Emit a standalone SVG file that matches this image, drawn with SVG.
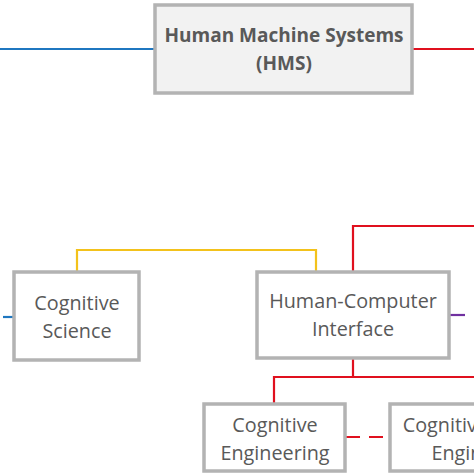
<svg xmlns="http://www.w3.org/2000/svg" width="474" height="474" viewBox="0 0 474 474">
<style>
.box{fill:#ffffff;stroke:#b3b3b3;stroke-width:3.5}
.top{fill:#f2f2f2;stroke:#b3b3b3;stroke-width:3.5}
.t{font-family:"Open Sans","Liberation Sans",sans-serif;font-size:19.8px;fill:#595959;text-anchor:middle}
.tb{font-family:"Open Sans","Liberation Sans",sans-serif;font-size:19px;font-weight:bold;fill:#595959;text-anchor:middle}
.c{fill:none;stroke-width:2.2}
</style>
<rect width="474" height="474" fill="#ffffff"/>
<g id="connectors">
<path class="c" stroke="#1f77c0" d="M0 49H154"/>
<path class="c" stroke="#e0101e" d="M413 49H474"/>
<path class="c" stroke="#f3c21b" d="M77 271V250H316V271"/>
<path class="c" stroke="#e0101e" d="M353 271V226H474"/>
<path class="c" stroke="#1f77c0" d="M3 317H13"/>
<path class="c" stroke="#7030a0" d="M450 315H465"/>
<path class="c" stroke="#e0101e" d="M353 359V377M274 403V377H474"/>
<path class="c" stroke="#e0101e" stroke-dasharray="14 9" d="M346 437H389"/>
</g>
<g id="hms">
<rect class="top" x="155" y="5" width="257" height="88"/>
<text class="tb" x="284" y="42">Human Machine Systems</text>
<text class="tb" x="284" y="70">(HMS)</text>
</g>
<g id="cognitive-science">
<rect class="box" x="14" y="272" width="125" height="88"/>
<text class="t" x="77" y="310">Cognitive</text>
<text class="t" x="77" y="338">Science</text>
</g>
<g id="hci">
<rect class="box" x="257" y="272" width="192" height="86"/>
<text class="t" x="353" y="308">Human-Computer</text>
<text class="t" x="353" y="336">Interface</text>
</g>
<g id="cognitive-engineering">
<rect class="box" x="204" y="404" width="141" height="67"/>
<text class="t" x="275" y="432">Cognitive</text>
<text class="t" x="275" y="460">Engineering</text>
</g>
<g id="cognitive-systems-engineering">
<rect class="box" x="390" y="404" width="192" height="67"/>
<text class="t" x="486" y="432">Cognitive Systems</text>
<text class="t" x="486" y="460">Engineering</text>
</g>
</svg>
